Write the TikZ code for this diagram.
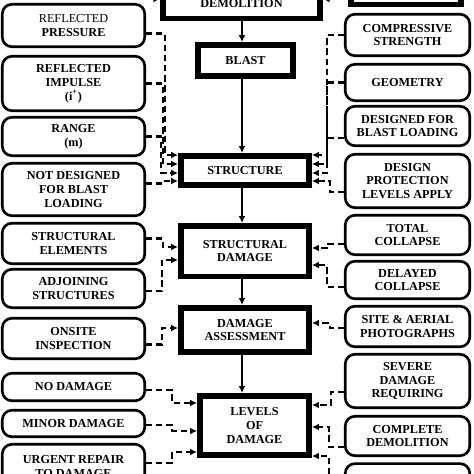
\documentclass[tikz,border=0pt]{standalone}
\usepackage{fontspec}
\setmainfont{Liberation Serif}
\usetikzlibrary{shapes,arrows,arrows.meta,calc}

\tikzset{
  mainbox/.style={draw, line width=4pt, fill=white, align=center, inner sep=1pt,
    font=\fontsize{8.8}{10}\selectfont\bfseries},
  sidebox/.style={draw, line width=1.9pt, rounded corners=7pt, fill=white, align=center,
    inner sep=1pt, font=\fontsize{8.8}{10}\selectfont\bfseries},
  leftbox/.style={sidebox, minimum width=102.6pt},
  rightbox/.style={sidebox, minimum width=89.6pt},
  mainlink/.style={line width=1.5pt, -{Latex[length=5pt,width=5pt]}},
  dashlink/.style={line width=1.7pt, dash pattern=on 4.5pt off 2.8pt, -{Latex[length=5pt,width=5pt]}}
}

\begin{document}
\begin{tikzpicture}[x=0.72pt,y=-0.72pt]
\useasboundingbox (0,0) rectangle (474,474);
\clip (0,0) rectangle (474,474);

% main column
\node[mainbox, minimum width=113pt, minimum height=21pt] (dem) at (241.5,4) {DEMOLITION};
\node[mainbox, minimum width=68.7pt, minimum height=22.6pt] (blast) at (245.5,60.5) {BLAST};
\node[mainbox, minimum width=92.4pt, minimum height=21.2pt] (st) at (245,170.5) {STRUCTURE};
\node[mainbox, minimum width=92.4pt, minimum height=36.4pt] (sd) at (245,251) {STRUCTURAL\\DAMAGE};
\node[mainbox, minimum width=92.4pt, minimum height=32pt] (da) at (245,330) {DAMAGE\\ASSESSMENT};
\node[mainbox, minimum width=78.8pt, minimum height=42.8pt] (lv) at (254.5,425.5) {LEVELS\\OF\\DAMAGE};
\coordinate (axis) at (242,0);

% left column
\node[leftbox, minimum height=30.6pt] (lpress) at (73.5,25.5) {\mdseries REFLECTED\\PRESSURE};
\node[leftbox, minimum height=39.2pt] (limp) at (73.5,83.5) {REFLECTED\\IMPULSE\\(i\textsuperscript{+})};
\node[leftbox, minimum height=27.7pt] (lrange) at (73.5,136.5) {RANGE\\(m)};
\node[leftbox, minimum height=37.8pt] (lnotdes) at (73.5,189.5) {NOT DESIGNED\\FOR BLAST\\LOADING};
\node[leftbox, minimum height=29.2pt] (lelem) at (73.5,243.5) {STRUCTURAL\\ELEMENTS};
\node[leftbox, minimum height=27.7pt] (ladj) at (73.5,288.5) {ADJOINING\\STRUCTURES};
\node[leftbox, minimum height=29.2pt] (lons) at (73.5,338.5) {ONSITE\\INSPECTION};
\node[leftbox, minimum height=19.8pt] (lno) at (73.5,387) {NO DAMAGE};
\node[leftbox, minimum height=19.1pt] (lmin) at (73.5,423.5) {MINOR DAMAGE};
\node[leftbox, minimum height=32pt] (lurg) at (73.5,466.5) {URGENT REPAIR\\TO DAMAGE};

% right column
\node[mainbox, minimum width=79.4pt, minimum height=24.4pt] (rtop) at (406,-12.5) {};
\node[rightbox, minimum height=29.9pt] (rcomp) at (407.5,35) {COMPRESSIVE\\STRENGTH};
\node[rightbox, minimum height=26.2pt] (rgeom) at (407.5,82.5) {GEOMETRY};
\node[rightbox, minimum height=28.4pt] (rdes) at (407.5,126) {DESIGNED FOR\\BLAST LOADING};
\node[rightbox, minimum height=38.5pt] (rprot) at (407.5,181) {DESIGN\\PROTECTION\\LEVELS APPLY};
\node[rightbox, minimum height=28.4pt] (rtot) at (407.5,235) {TOTAL\\COLLAPSE};
\node[rightbox, minimum height=27pt] (rdel) at (407.5,280) {DELAYED\\COLLAPSE};
\node[rightbox, minimum height=29.2pt] (rsite) at (407.5,326.5) {SITE \& AERIAL\\PHOTOGRAPHS};
\node[rightbox, minimum height=38.5pt] (rsev) at (407.5,381) {SEVERE\\DAMAGE\\REQUIRING};
\node[rightbox, minimum height=28.4pt] (rcompl) at (407.5,436) {COMPLETE\\DEMOLITION};
\node[rightbox, minimum height=38pt] (rbot) at (407.5,490) {};

% main flow
\draw[mainlink] (axis |- dem.south) -- (axis |- blast.north);
\draw[mainlink] (axis |- blast.south) -- (axis |- st.north);
\draw[mainlink] (axis |- st.south) -- (axis |- sd.north);
\draw[mainlink] (axis |- sd.south) -- (axis |- da.north);
\draw[mainlink] (axis |- da.south) -- (axis |- lv.north);

% into demolition
\coordinate (tl) at (146,-1);
\coordinate (tr) at (342,-1);
\draw[dashlink] (tl) -- (dem.west |- tl);
\draw[dashlink] (tr) -- (dem.east |- tr);

% into structure
\draw[dashlink] ($(lpress.east)+(0,8)$) -- ++(19,0) |- ($(st.west)+(0,-15.5)$);
\draw[dashlink] (limp.east) -- ++(17,0) |- ($(st.west)+(0,-6.5)$);
\draw[dashlink] (lrange.east) -- ++(15,0) |- ($(st.west)+(0,2.5)$);
\draw[dashlink] ($(lnotdes.east)+(0,-6)$) -- ++(15,0) |- ($(st.west)+(0,10.5)$);
\draw[dashlink] (rcomp.west) -- ++(-17,0) |- ($(st.east)+(0,-15.5)$);
\draw[dashlink] (rgeom.west) -- ++(-17,0) |- ($(st.east)+(0,-6.5)$);
\draw[dashlink] ($(rdes.west)+(0,12)$) -- ++(-17,0) |- ($(st.east)+(0,2.5)$);
\draw[dashlink] ($(rprot.west)+(0,11)$) -- ++(-14,0) |- ($(st.east)+(0,10.5)$);

% into structural damage
\draw[dashlink] ($(lelem.east)+(0,-5)$) -- ++(17,0) |- ($(sd.west)+(0,-4)$);
\draw[dashlink] ($(ladj.east)+(0,2.5)$) -- ++(16,0) |- ($(sd.west)+(0,9)$);
\draw[dashlink] ($(rtot.west)+(0,9)$) -- ++(-16,0) |- ($(sd.east)+(0,-3)$);
\draw[dashlink] ($(rdel.west)+(0,7)$) -- ++(-17,0) |- ($(sd.east)+(0,14)$);

% into damage assessment
\draw[dashlink] ($(lons.east)+(0,6)$) -- ++(16,0) |- ($(da.west)+(0,-2)$);
\draw[dashlink] ($(rsite.west)+(0,1.5)$) -- ++(-14,0) |- ($(da.east)+(0,-7)$);

% into levels of damage
\draw[dashlink] ($(lno.east)+(0,3)$) -- ++(26,0) |- ($(lv.west)+(0,-22.5)$);
\draw[dashlink] ($(lmin.east)+(0,1.5)$) -- ++(26,0) |- ($(lv.west)+(0,5.5)$);
\draw[dashlink] ($(lurg.east)+(0,-3.5)$) -- ++(26,0) |- ($(lv.west)+(0,26.5)$);
\draw[dashlink] ($(rsev.west)+(0,11)$) -- ++(-13,0) |- ($(lv.east)+(0,-20.5)$);
\draw[dashlink] ($(rcompl.west)+(0,11)$) -- ++(-15,0) |- ($(lv.east)+(0,1.5)$);
\draw[dashlink] (rbot.west) -- ++(-15,0) |- ($(lv.east)+(0,30.5)$);
\end{tikzpicture}
\end{document}
